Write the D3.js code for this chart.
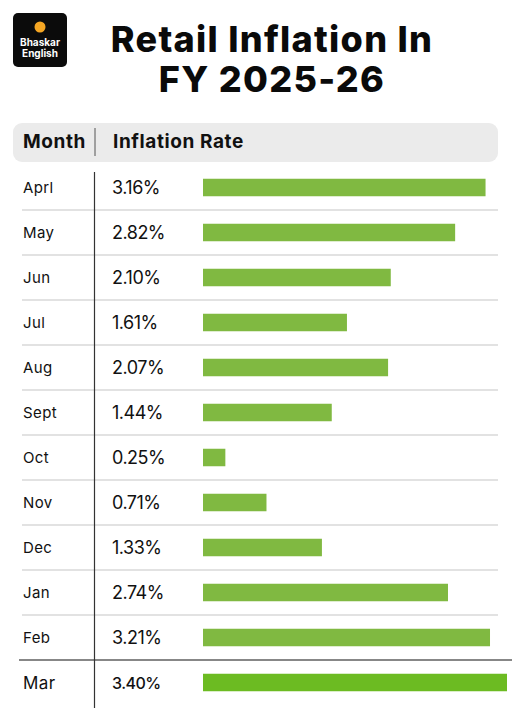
<!DOCTYPE html>
<html>
<head>
<meta charset="utf-8">
<script src="https://cdn.jsdelivr.net/npm/d3@7"></script>
<style>
  html, body { margin: 0; padding: 0; background: #fff; }
  svg { display: block; }
</style>
</head>
<body>
<svg id="chart" width="512" height="708"></svg>
<script>
// data
const months = ["Aprl", "May", "Jun", "Jul", "Aug", "Sept", "Oct", "Nov", "Dec", "Jan", "Feb", "Mar"]
const rates = [3.16, 2.82, 2.10, 1.61, 2.07, 1.44, 0.25, 0.71, 1.33, 2.74, 3.21, 3.40]
const titleLines = ["Retail Inflation In", "FY 2025-26"]
const headers = ["Month", "Inflation Rate"]

const svg = d3.select("#chart")
const W = 512, H = 708
const font = "Inter, 'Noto Sans', sans-serif"

svg.append("rect").attr("width", W).attr("height", H).attr("fill", "#fff")

// logo
const logo = svg.append("g")
logo.append("rect").attr("x", 13).attr("y", 13).attr("width", 54).attr("height", 54).attr("rx", 5).attr("fill", "#0b0b0b")
logo.append("circle").attr("cx", 40).attr("cy", 27).attr("r", 5.5).attr("fill", "#f5a623")
logo.append("text").attr("x", 40).attr("y", 46).attr("text-anchor", "middle").attr("font-family", font)
  .attr("font-weight", 700).attr("font-size", 10).attr("fill", "#fff").text("Bhaskar")
logo.append("text").attr("x", 40).attr("y", 57).attr("text-anchor", "middle").attr("font-family", font)
  .attr("font-weight", 700).attr("font-size", 10).attr("fill", "#fff").text("English")

// title
svg.selectAll(".title").data(titleLines).enter().append("text")
  .attr("class", "title")
  .attr("x", 272).attr("y", (d, i) => 52 + i * 40)
  .attr("text-anchor", "middle")
  .attr("font-family", font).attr("font-weight", 800).attr("font-size", 36)
  .attr("letter-spacing", 1.3)
  .attr("fill", "#0a0a0a")
  .text((d) => d)

// header bar
svg.append("rect").attr("x", 13).attr("y", 123).attr("width", 485).attr("height", 39).attr("rx", 9).attr("fill", "#ebebeb")
svg.append("line").attr("x1", 95).attr("x2", 95).attr("y1", 128).attr("y2", 156).attr("stroke", "#555").attr("stroke-width", 1)
svg.selectAll(".hdr").data(headers).enter().append("text")
  .attr("class", "hdr")
  .attr("x", (d, i) => (i === 0 ? 23 : 113)).attr("y", 148)
  .attr("font-family", font).attr("font-weight", 700).attr("font-size", 19)
  .attr("letter-spacing", 0.6)
  .attr("fill", "#111").text((d) => d)

// scales
const y = d3.scaleBand().domain(months).range([165, 705]).padding(0)
const x = d3.scaleLinear().domain([0, 3.4]).range([203, 507])
const barH = 17.5
const last = months[months.length - 1]

// row separators
svg.selectAll(".sep").data(months.slice(0, months.length - 2)).enter().append("line")
  .attr("class", "sep")
  .attr("x1", 22).attr("x2", 498)
  .attr("y1", (d) => y(d) + y.bandwidth()).attr("y2", (d) => y(d) + y.bandwidth())
  .attr("stroke", "#d9d9d9").attr("stroke-width", 1.5)

// dark line above last row
svg.append("line").attr("x1", 19).attr("x2", W)
  .attr("y1", y(last)).attr("y2", y(last))
  .attr("stroke", "#111").attr("stroke-width", 1.2)

// vertical divider
svg.append("line").attr("x1", 94.5).attr("x2", 94.5).attr("y1", 172).attr("y2", H)
  .attr("stroke", "#333").attr("stroke-width", 1.2)

// bars
svg.selectAll(".bar").data(months).enter().append("rect")
  .attr("class", "bar")
  .attr("x", x(0))
  .attr("y", (d) => y(d) + y.bandwidth() / 2 - barH / 2)
  .attr("width", (d, i) => x(rates[i]) - x(0))
  .attr("height", barH)
  .attr("fill", (d) => (d === last ? "#6cbb22" : "#80b941"))

// month labels
svg.selectAll(".mlab").data(months).enter().append("text")
  .attr("class", "mlab")
  .attr("x", 23).attr("y", (d) => y(d) + y.bandwidth() / 2)
  .attr("dy", "0.36em")
  .attr("font-family", font)
  .attr("font-size", (d) => (d === last ? 17 : 15))
  .attr("letter-spacing", 0.4)
  .attr("fill", "#111").text((d) => d)

// value labels
svg.selectAll(".vlab").data(months).enter().append("text")
  .attr("class", "vlab")
  .attr("x", 112).attr("y", (d) => y(d) + y.bandwidth() / 2)
  .attr("dy", "0.38em")
  .attr("font-family", font)
  .attr("font-weight", (d) => (d === last ? 500 : 400))
  .attr("font-size", (d) => (d === last ? 16 : 18))
  .attr("letter-spacing", -0.5)
  .attr("fill", "#111").text((d, i) => rates[i].toFixed(2) + "%")
</script>
</body>
</html>
